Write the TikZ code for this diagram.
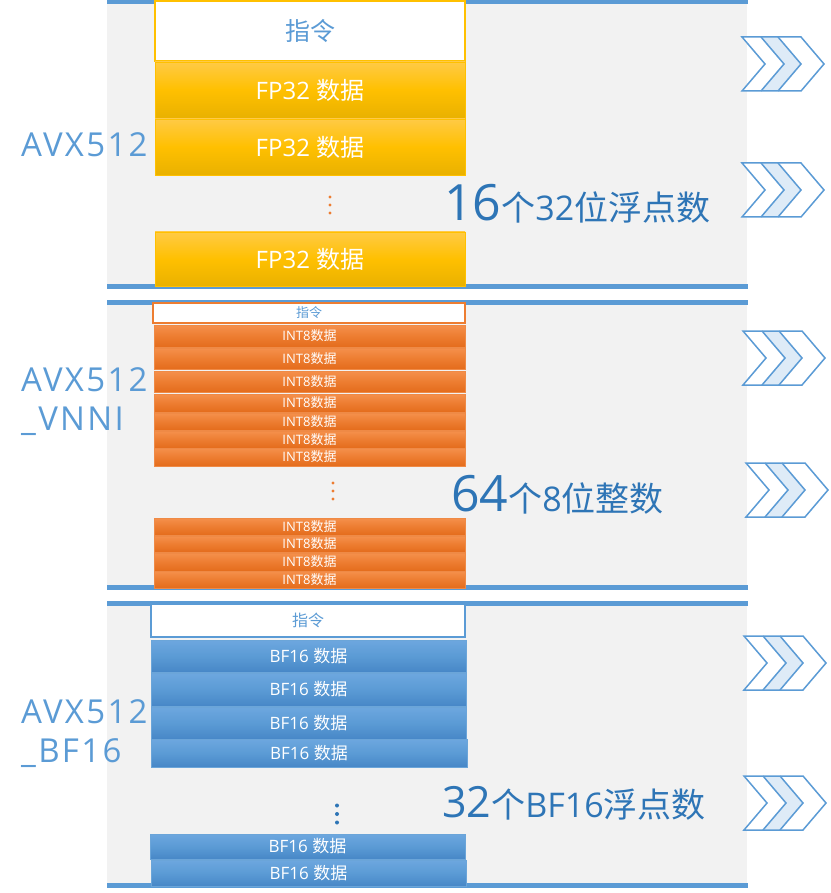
\documentclass[tikz,border=0pt]{standalone}
\usepackage{fontspec}
\setmainfont{Open Sans}
\newfontfamily\cjk{Noto Sans CJK SC}
\newfontfamily\sidefont[LetterSpace=7]{Open Sans}
\newcommand\zh[1]{{\cjk #1}}
\newcommand\fsz[1]{\fontsize{#1}{#1}\selectfont}
\definecolor{bgGrey}{HTML}{F2F2F2}
\definecolor{lineBlue}{HTML}{5B9BD5}
\definecolor{darkBlue}{HTML}{2E75B6}
\definecolor{yTop}{HTML}{FFCA45}
\definecolor{yMid}{HTML}{FFC000}
\definecolor{yBot}{HTML}{E9B100}
\definecolor{oTop}{HTML}{F5904C}
\definecolor{oMid}{HTML}{ED7D31}
\definecolor{oBot}{HTML}{E46C1C}
\definecolor{bTop}{HTML}{6DA7DF}
\definecolor{bMid}{HTML}{5B9BD5}
\definecolor{bBot}{HTML}{4787C7}
\definecolor{chevFill}{HTML}{DEEBF7}
\begin{document}
\begin{tikzpicture}[x=1pt,y=-1pt,
  box/.style={inner sep=0pt, outer sep=0pt, text=white, anchor=center},
  insbox/.style={box, fill=white, text=lineBlue, line width=2pt},
  fpbox/.style={box, draw=yMid, line width=0.6pt, top color=yTop, bottom color=yBot, middle color=yMid, font=\fsz{24}},
  intbox/.style={box, draw=oMid!90!white, line width=0.6pt, top color=oTop, bottom color=oBot, middle color=oMid, font=\fsz{13}},
  bfbox/.style={box, draw=bMid!90!white, line width=0.6pt, top color=bTop, bottom color=bBot, middle color=bMid, font=\fsz{17}},
  sidelabel/.style={anchor=base west, inner sep=0pt, text=lineBlue, align=left, font={\sidefont\fontsize{33}{39}\selectfont}},
  biglabel/.style={anchor=base west, inner sep=0pt, text=darkBlue, font=\fsz{34}},
  chevline/.style={draw=lineBlue, line width=1.5pt, line join=miter},
  chev/.pic={
    \fill[white] (0,0) -- (59,0) -- (82,27) -- (59,54) -- (0,54) -- (23,27) -- cycle;
    \fill[chevFill] (19,0) -- (36,0) -- (59,27) -- (36,54) -- (19,54) -- (42,27) -- cycle;
    \draw[chevline] (0,0) -- (59,0) -- (82,27) -- (59,54) -- (0,54) -- (23,27) -- cycle;
    \draw[chevline] (19,0) -- (42,27) -- (19,54);
    \draw[chevline] (36,0) -- (59,27) -- (36,54);
  }
]
\useasboundingbox (0,0) rectangle (830,893);

% grey backgrounds
\fill[bgGrey] (107,4) rectangle (747,285);
\fill[bgGrey] (107,302) rectangle (747,588);
\fill[bgGrey] (107,605) rectangle (747,886);

% blue separator lines
\foreach \ya/\yb in {0/4, 284/288.5, 300/304.5, 585/589.5, 601/605.5, 883/887.5}
  \fill[lineBlue] (107,\ya) rectangle (748,\yb);

% ---------- AVX512 ----------
\node[insbox, draw=yMid, minimum width=310pt, minimum height=60pt, font=\fsz{25}] (ins1) at (310,31.5) {\raisebox{-3pt}{\zh{指令}}};
\node[fpbox, minimum width=310pt, minimum height=56pt] (fp1) at (310,90) {\raisebox{-2pt}{FP32 \zh{数据}}};
\node[fpbox, minimum width=310pt, minimum height=56pt] (fp2) at (310,147) {\raisebox{-2pt}{FP32 \zh{数据}}};
\node[fpbox, minimum width=310pt, minimum height=54pt] (fp3) at (310,259) {\raisebox{-2pt}{FP32 \zh{数据}}};
\foreach \yy in {197,205,213} \fill[oMid] (330,\yy) circle (1.7pt);
\node[sidelabel] (l1) at (21,157) {AVX512};
\node[biglabel] (t1) at (444,221) {{\fsz{50}16}\zh{个}32\zh{位浮点数}};

% ---------- AVX512_VNNI ----------
\node[insbox, draw=oMid, minimum width=312pt, minimum height=20pt, font=\fsz{13}] (ins2) at (309,312.5) {\zh{指令}};
\foreach \n/\yc/\hh in {1/336/22, 2/358.5/21, 3/381.5/21, 4/403/18, 5/421.5/17, 6/439.5/17, 7/457/18,
                        8/526.5/17, 9/544/16, 10/562/18, 11/579.5/17}
  \node[intbox, minimum width=311pt, minimum height=\hh pt] (int\n) at (309.5,\yc) {INT8\zh{数据}};
\foreach \yy in {483,491,499} \fill[oMid] (333,\yy) circle (1.7pt);
\node[sidelabel] (l2) at (21,430) {AVX512\\\_VNNI};
\node[biglabel] (t2) at (451,511) {{\fsz{50}64}\zh{个}8\zh{位整数}};

% ---------- AVX512_BF16 ----------
\node[insbox, draw=lineBlue, minimum width=314pt, minimum height=33pt, font=\fsz{16}] (ins3) at (308,620) {\zh{指令}};
\node[bfbox, minimum width=315pt, minimum height=32pt] (bf1) at (308.5,656) {\raisebox{-1pt}{BF16 \zh{数据}}};
\node[bfbox, minimum width=315pt, minimum height=33pt] (bf2) at (308.5,689.5) {\raisebox{-1pt}{BF16 \zh{数据}}};
\node[bfbox, minimum width=315pt, minimum height=32pt] (bf3) at (308.5,723) {\raisebox{-1pt}{BF16 \zh{数据}}};
\node[bfbox, minimum width=316pt, minimum height=28pt] (bf4) at (309,753) {\raisebox{-1pt}{BF16 \zh{数据}}};
\node[bfbox, minimum width=315pt, minimum height=25pt] (bf5) at (307.5,846.5) {BF16 \zh{数据}};
\node[bfbox, minimum width=315pt, minimum height=26pt] (bf6) at (308.5,873) {BF16 \zh{数据}};
\foreach \yy in {805.5,814,822.5} \fill[darkBlue] (337,\yy) circle (2pt);
\node[sidelabel] (l3) at (21,762.5) {AVX512\\\_BF16};
\node[biglabel] (t3) at (442,817) {{\fsz{43}32}\zh{个}BF16\zh{浮点数}};

% chevrons
\pic at (742,37) {chev};
\pic at (742,163) {chev};
\pic at (743,331) {chev};
\pic at (746,463) {chev};
\pic at (744,636) {chev};
\pic at (744,776) {chev};
\end{tikzpicture}
\end{document}
